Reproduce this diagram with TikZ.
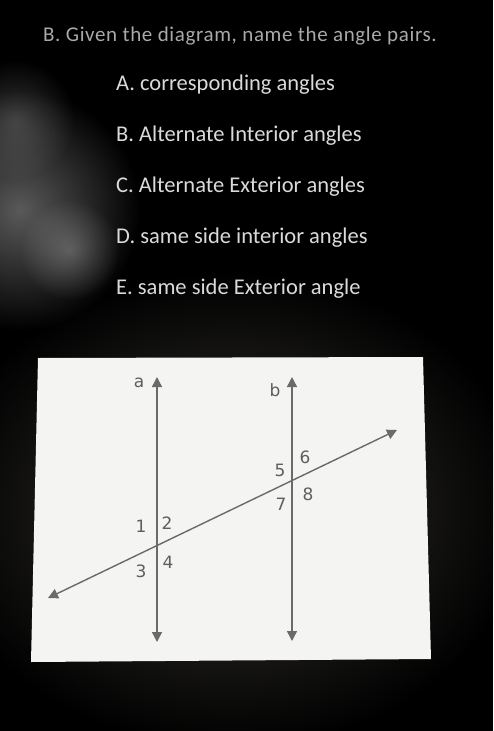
\documentclass[tikz,border=0pt]{standalone}
\usepackage{fontspec}
\setmainfont{Carlito}
\newfontfamily\titlefont[LetterSpace=3]{Carlito}
\newfontfamily\lblfont{DejaVu Sans}
\usetikzlibrary{arrows.meta,fadings}
\tikzfading[name=softout, inner color=transparent!0, outer color=transparent!100]
\definecolor{titlegray}{HTML}{A9A9A9}
\definecolor{optgray}{HTML}{DADADA}
\definecolor{linegray}{HTML}{6A6A6A}
\definecolor{lblgray}{HTML}{5E5E5E}
\definecolor{paper}{HTML}{F4F4F2}
\definecolor{framegray}{HTML}{3A3835}
\begin{document}
\begin{tikzpicture}[x=1pt,y=-1pt,
  titletext/.style={anchor=base west,inner sep=0pt,text=titlegray,font=\titlefont\fontsize{21}{22}\selectfont},
  opttext/.style={anchor=base west,inner sep=0pt,text=optgray,font=\fontsize{22.5}{24}\selectfont},
  geoline/.style={draw=linegray,line width=1.4pt,{Triangle[length=10pt,width=10pt]}-{Triangle[length=10pt,width=10pt]}},
  lbl/.style={inner sep=0pt,text=lblgray,font=\lblfont\fontsize{17}{18}\selectfont},
  glare/.style={fill=white,path fading=softout}]
\useasboundingbox (0,0) rectangle (493,731);
\fill[black] (0,0) rectangle (493,731);
% soft glare on the left
\fill[glare,opacity=0.35] (20,210) circle (120);
\fill[glare,opacity=0.25] (70,250) circle (50);
\fill[glare,opacity=0.2] (15,120) circle (60);
% dark frame around the picture
\fill[framegray,path fading=softout] (230,510) ellipse (300 and 240);
% white picture
\fill[paper] (38,358) -- (423,357) -- (431,659) -- (31,662) -- cycle;
% texts
\node[titletext] (title) at (43,41) {B. Given the diagram, name the angle pairs.};
\node[opttext] (optA) at (116,90) {A. corresponding angles};
\node[opttext] (optB) at (116,141) {B. Alternate Interior angles};
\node[opttext] (optC) at (116,192) {C. Alternate Exterior angles};
\node[opttext] (optD) at (116,243) {D. same side interior angles};
\node[opttext] (optE) at (116,294) {E. same side Exterior angle};
% lines
\coordinate (aTop) at (157,377);
\coordinate (aBot) at (157,642);
\coordinate (bTop) at (292,377);
\coordinate (bBot) at (292,641);
\coordinate (tL) at (48,598);
\coordinate (tR) at (397,430);
\draw[geoline] (aBot) -- (aTop);
\draw[geoline] (bBot) -- (bTop);
\draw[geoline] (tL) -- (tR);
% labels
\node[lbl] (la) at (139,383) {a};
\node[lbl] (lb) at (275,390) {b};
\node[lbl] (l1) at (141,526) {1};
\node[lbl] (l2) at (167,523) {2};
\node[lbl] (l3) at (141,571) {3};
\node[lbl] (l4) at (168,562) {4};
\node[lbl] (l5) at (280,470) {5};
\node[lbl] (l6) at (305,457) {6};
\node[lbl] (l7) at (281,504) {7};
\node[lbl] (l8) at (308,494) {8};
\end{tikzpicture}
\end{document}
